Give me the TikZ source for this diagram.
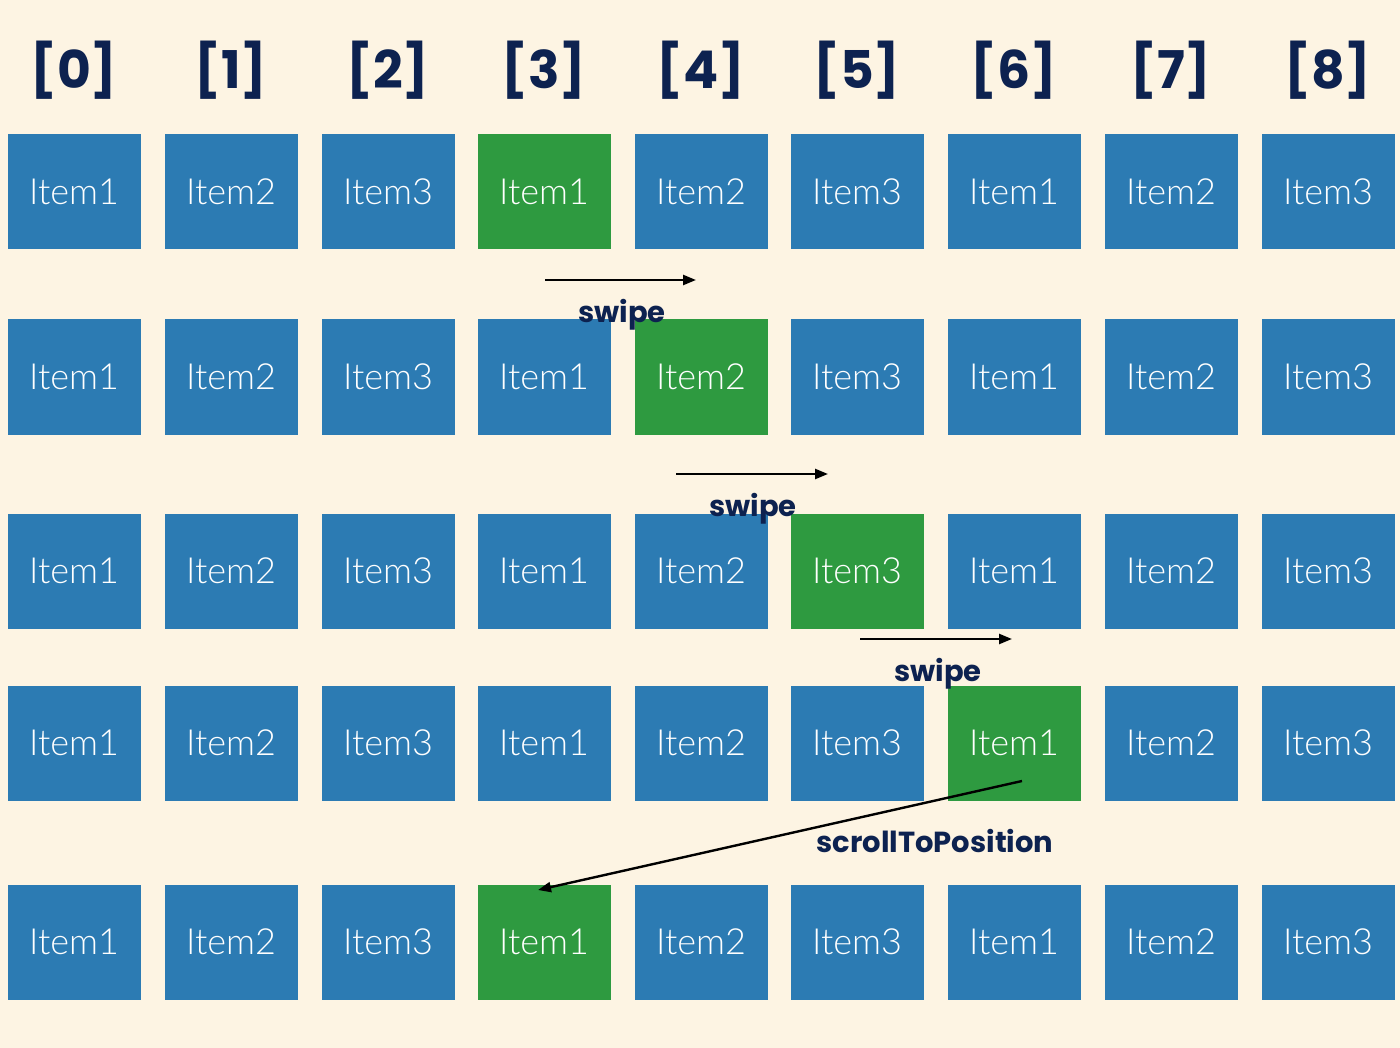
\documentclass[tikz,border=0pt]{standalone}
\usepackage{fontspec}
\setmainfont{Poppins}
\newfontfamily\itemfont{Lato}[UprightFont=* Light]
\usetikzlibrary{arrows.meta}
\definecolor{bg}{HTML}{FDF4E3}
\definecolor{bluebox}{HTML}{2C7BB3}
\definecolor{greenbox}{HTML}{2E9A40}
\definecolor{navy}{HTML}{0D2250}
\begin{document}
\begin{tikzpicture}[x=1pt,y=-1pt,
  box/.style={minimum width=133pt,minimum height=115pt,inner sep=0,fill=bluebox,text=white,font=\itemfont\fontsize{36}{38}\selectfont},
  sel/.style={box,fill=greenbox},
  hdr/.style={text=navy,font=\bfseries\fontsize{52}{56}\selectfont},
  lbl/.style={text=navy,font=\bfseries\fontsize{29}{32}\selectfont},
  arr/.style={line width=2.4pt,-{Triangle[length=13pt,width=10pt]}}]
\fill[bg] (0,0) rectangle (1400,1048);
\useasboundingbox (0,0) rectangle (1400,1048);
\foreach \c/\x in {0/74,1/231,2/388,3/544,4/701,5/857,6/1014,7/1171,8/1328}{
  \node[hdr] (h\c) at (\x,70) {[\c]};
}
\foreach \r/\y/\g in {1/192/3,2/377/4,3/571/5,4/743/6,5/942/3}{
  \foreach \c/\x/\t in {0/74/1,1/231/2,2/388/3,3/544/1,4/701/2,5/857/3,6/1014/1,7/1171/2,8/1328/3}{
    \ifnum\c=\g
      \node[sel] (b\r-\c) at (\x,\y) {Item\t};
    \else
      \node[box] (b\r-\c) at (\x,\y) {Item\t};
    \fi
  }
}
\coordinate (a1s) at (545,280); \coordinate (a1e) at (696,280);
\coordinate (a2s) at (676,474); \coordinate (a2e) at (828,474);
\coordinate (a3s) at (860,639); \coordinate (a3e) at (1012,639);
\coordinate (a4s) at (1022,781); \coordinate (a4e) at (538,890);
\draw[arr] (a1s) -- (a1e);
\draw[arr] (a2s) -- (a2e);
\draw[arr] (a3s) -- (a3e);
\draw[arr] (a4s) -- (a4e);
\node[lbl] (s1) at (622,315) {swipe};
\node[lbl] (s2) at (753,509) {swipe};
\node[lbl] (s3) at (938,674) {swipe};
\node[lbl] (s4) at (935,841) {scrollToPosition};
\end{tikzpicture}
\end{document}
